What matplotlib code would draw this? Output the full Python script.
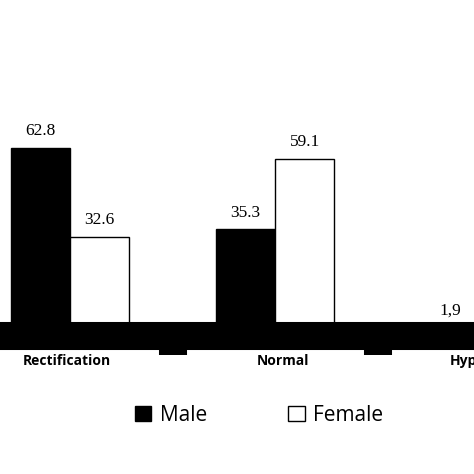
import matplotlib
matplotlib.use("Agg")
import matplotlib.pyplot as plt
import numpy as np

categories = ["Rectification", "Normal", "Hyperlordosis"]
male = [62.8, 35.3, 1.9]
female = [32.6, 59.1, 8.3]
male_labels = ["62.8", "35.3", "1,9"]
female_labels = ["32.6", "59.1", "8,3"]

fig = plt.figure(figsize=(4.74, 4.74), dpi=100)
ax = fig.add_axes([0, (474 - 336) / 474, 1, 336 / 474])

x = np.arange(len(categories))
w = 0.29
b1 = ax.bar(x - w / 2, male, w, color="black", edgecolor="black", linewidth=1.0, label="Male")
b2 = ax.bar(x + w / 2, female, w, color="white", edgecolor="black", linewidth=1.0, label="Female")

# value labels above each bar
for bars, labs in [(b1, male_labels), (b2, female_labels)]:
    for rect, lab in zip(bars, labs):
        ax.annotate(lab, (rect.get_x() + rect.get_width() / 2, rect.get_height()),
                    xytext=(0, 6), textcoords="offset points", ha="center", va="bottom",
                    family="Liberation Serif", fontsize=12.5)

for s in ["top", "left", "right"]:
    ax.spines[s].set_visible(False)
ax.spines["bottom"].set_linewidth(20.2)
ax.spines["bottom"].set_color("black")
ax.set_yticks([])

# thick tick marks between the groups
ax.set_xticks([0.5, 1.5])
ax.set_xticklabels([])
ax.tick_params(axis="x", which="major", direction="out", length=13.7, width=20.2, color="black")

# category names (slightly off-centre, as in the original)
label_pos = [-0.015, 1.04, 2.086]
for xp, name in zip(label_pos, categories):
    ax.text(xp, -0.055, name, transform=ax.get_xaxis_transform(), ha="center", va="top",
            family="Open Sans", fontweight="bold", fontsize=10, clip_on=False)

ax.set_xlim(-70 / 205, 404 / 205)
ax.set_ylim(-3 / 2.95, 333 / 2.95)

fig.legend(handles=[b1, b2], labels=["Male", "Female"], loc="center",
           bbox_to_anchor=(0.547, 0.124), bbox_transform=fig.transFigure,
           ncol=2, frameon=False, prop={"family": "Open Sans", "size": 15},
           handlelength=0.77, handleheight=0.77, handletextpad=0.43, columnspacing=3.9)

fig.savefig("out.png", dpi=100)
